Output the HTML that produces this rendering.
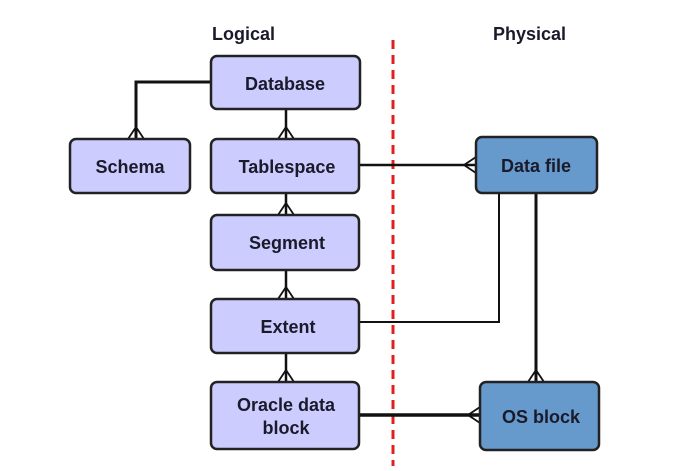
<!DOCTYPE html>
<html><head><meta charset="utf-8"><style>
body{margin:0;background:#fff}
svg text{font-family:"Liberation Sans",sans-serif;font-weight:bold;fill:#1a1a2a}
</style></head><body>
<svg width="690" height="466" viewBox="0 0 690 466" xmlns="http://www.w3.org/2000/svg">
<text x="212" y="40" font-size="18">Logical</text>
<text x="493" y="40" font-size="18">Physical</text>
<line x1="393" y1="40" x2="393" y2="466" stroke="#e02020" stroke-width="3" stroke-dasharray="9,6"/>
<g stroke="#111" fill="none">
<polyline points="211,82 136,82 136,139" stroke-width="3"/>
<line x1="286" y1="109" x2="286" y2="139" stroke-width="2.5"/>
<line x1="286" y1="193" x2="286" y2="215" stroke-width="2.5"/>
<line x1="286" y1="270" x2="286" y2="299" stroke-width="2.5"/>
<line x1="286" y1="353" x2="286" y2="382" stroke-width="2.5"/>
<line x1="359" y1="165" x2="476" y2="165" stroke-width="2.5"/>
<polyline points="359,322 499,322 499,193" stroke-width="2"/>
<line x1="536" y1="193" x2="536" y2="382" stroke-width="3"/>
<line x1="359" y1="415" x2="480" y2="415" stroke-width="3.5"/>
<g stroke-width="1.8">
<path d="M136,127 L128,139 M136,127 L144,139 M136,127 L136,139"/>
<path d="M286,127 L278,139 M286,127 L294,139"/>
<path d="M286,203 L278,215 M286,203 L294,215"/>
<path d="M286,287 L278,299 M286,287 L294,299"/>
<path d="M286,370 L278,382 M286,370 L294,382"/>
<path d="M536,370 L528,382 M536,370 L544,382"/>
<path d="M464,165 L476,157 M464,165 L476,173"/>
<path d="M468,415 L480,407 M468,415 L480,423"/>
</g>
</g>
<g stroke="#222" stroke-width="2.5">
<rect x="211" y="56" width="149" height="53" rx="6" fill="#ccccff"/>
<rect x="70" y="139" width="120" height="54" rx="6" fill="#ccccff"/>
<rect x="211" y="139" width="148" height="54" rx="6" fill="#ccccff"/>
<rect x="211" y="215" width="148" height="55" rx="6" fill="#ccccff"/>
<rect x="211" y="299" width="148" height="54" rx="6" fill="#ccccff"/>
<rect x="211" y="382" width="148" height="67" rx="6" fill="#ccccff"/>
<rect x="476" y="137" width="121" height="56" rx="6" fill="#6699cc"/>
<rect x="480" y="382" width="119" height="68" rx="6" fill="#6699cc"/>
</g>
<g font-size="18" text-anchor="middle">
<text x="285" y="90">Database</text>
<text x="130" y="173">Schema</text>
<text x="287" y="173">Tablespace</text>
<text x="287" y="249">Segment</text>
<text x="288" y="333">Extent</text>
<text x="286" y="411">Oracle data</text>
<text x="286" y="434">block</text>
<text x="536" y="172">Data file</text>
<text x="541" y="423">OS block</text>
</g>
</svg>
</body></html>
